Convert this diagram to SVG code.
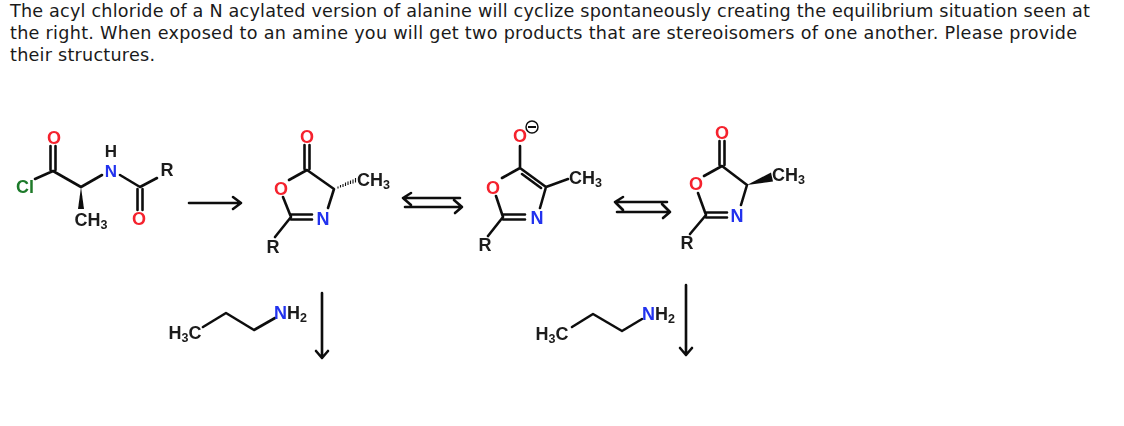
<svg xmlns="http://www.w3.org/2000/svg" width="1124" height="426" viewBox="0 0 1124 426">
<defs>
<style>
.t{font-family:"DejaVu Sans",Verdana,sans-serif;font-size:17.600px;fill:#1a1a1a}
.a{font-family:"Liberation Sans",Arial,sans-serif;font-weight:700;font-size:18px;fill:#1a1a1a;text-anchor:middle}
.l{text-anchor:start}
.s{font-size:12.500px}
.nh{font-size:17px}
.o{fill:#f5222d}.n{fill:#2233ee}.c{fill:#1f7a2a}
.b{fill:none;stroke:#111;stroke-width:2.600;stroke-linecap:round;stroke-linejoin:round}
.w{fill:#111;stroke:none}
.h{fill:none;stroke:#111;stroke-width:1.100}
</style>
<filter id="soft" x="-5%" y="-5%" width="110%" height="110%"><feGaussianBlur stdDeviation="0.6"/></filter>
</defs>
<rect width="1124" height="426" fill="#fff"/>
<g id="question">
<text class="t" x="10" y="17" textLength="1080" lengthAdjust="spacing">The acyl chloride of a N acylated version of alanine will cyclize spontaneously creating the equilibrium situation seen at</text>
<text class="t" x="10" y="39" textLength="1067" lengthAdjust="spacing">the right. When exposed to an amine you will get two products that are stereoisomers of one another. Please provide</text>
<text class="t" x="10" y="61" textLength="145" lengthAdjust="spacing">their structures.</text>
</g>
<g filter="url(#soft)">
<g id="acyl-chloride">
<path class="b" d="M35 179L53 171L81 187L102 175M120 175L140 187L157 178M50.500 146V170M55.500 146V170M137.500 189V210M142.500 189V210"/>
<path class="w" d="M81 187L78 209H84Z"/>
<text class="a o" x="54" y="144">O</text>
<text class="a c" x="25" y="193">Cl</text>
<text class="a nh" x="111" y="157">H</text>
<text class="a n nh" x="111" y="177">N</text>
<text class="a" x="167" y="176">R</text>
<text class="a o" x="139" y="225">O</text>
<text class="a" x="91" y="226">CH<tspan class="s" dy="3">3</tspan></text>
</g>
<g id="oxazolone-left">
<path class="b" d="M304.500 145V169M309.500 145V169M307 170L289 180M283 197L291 217L275 237M291 214.500H312M291 219.500H312M307 170L334 189L328 208"/>
<path class="h" d="M338 188.500V186.500M340.500 187.500V185M343 187V184M345.500 186V182.500M348 185V181.500M350.500 184V180.500M353 183.500V179.500M355.500 182.500V178"/>
<text class="a o" x="307" y="143">O</text>
<text class="a o" x="281" y="195">O</text>
<text class="a n" x="323" y="225">N</text>
<text class="a" x="273" y="253">R</text>
<text class="a l" x="357" y="186">CH<tspan class="s" dy="3">3</tspan></text>
</g>
<g id="oxazole-enolate">
<path class="b" d="M520 146V168L502 178M496 196L503 217L488 236M503 214.500H525M503 219.500H525M520 168L546 187L540 208M522 174L541 188M546 187L568 179"/>
<text class="a o" x="520" y="142">O</text>
<g id="negative-charge"><circle cx="532" cy="127" r="6" fill="none" stroke="#111" stroke-width="1.500"/><path d="M528 127H536" stroke="#111" stroke-width="2"/></g>
<text class="a o" x="493" y="194">O</text>
<text class="a n" x="537" y="224">N</text>
<text class="a" x="485" y="251">R</text>
<text class="a l" x="569" y="184">CH<tspan class="s" dy="3">3</tspan></text>
</g>
<g id="oxazolone-right">
<path class="b" d="M719.500 141V165M724.500 141V165M722 166L704 176M698 193L706 215L690 234M706 212.500H727M706 217.500H727M722 166L747 185L741 205"/>
<path class="w" d="M747 185L771 172.500L773 181.500Z"/>
<text class="a o" x="722" y="139">O</text>
<text class="a o" x="696" y="190">O</text>
<text class="a n" x="737" y="222">N</text>
<text class="a" x="687" y="249">R</text>
<text class="a l" x="772" y="181">CH<tspan class="s" dy="3">3</tspan></text>
</g>
<g id="propylamine-left">
<path class="b" d="M203 327L226 313L254 330L275 318"/>
<text class="a" x="185" y="339">H<tspan class="s" dy="3">3</tspan><tspan dy="-3">C</tspan></text>
<text class="a l" x="274" y="319"><tspan class="n">N</tspan>H<tspan class="s" dy="3">2</tspan></text>
</g>
<g id="propylamine-right">
<path class="b" d="M572 327L593 314L622 331L642 319"/>
<text class="a" x="552" y="340">H<tspan class="s" dy="3">3</tspan><tspan dy="-3">C</tspan></text>
<text class="a l" x="642" y="320"><tspan class="n">N</tspan>H<tspan class="s" dy="3">2</tspan></text>
</g>
<g id="connectors">
<path class="b" d="M189 203H241M233 197L241 203L233 209"/>
<path class="b" d="M403 198H460M411 193L403 198L411 205M405 207H462M454 200L462 207L455 213"/>
<path class="b" d="M615 202H667M623 197L615 202L623 210M617 212H670M662 204L670 212L663 218"/>
<path class="b" d="M322 293V358M316 351L322 358L328 351"/>
<path class="b" d="M686 285V355M680 348L686 355L692 348"/>
</g>
</g>
</svg>
